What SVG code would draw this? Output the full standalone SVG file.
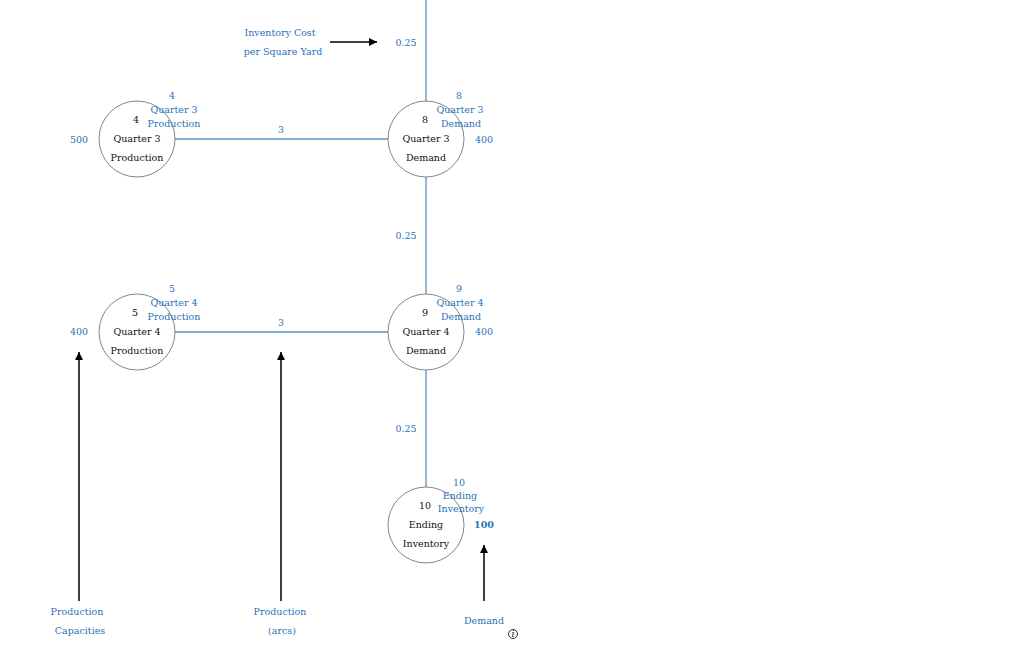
<svg xmlns="http://www.w3.org/2000/svg" width="1024" height="651" viewBox="0 0 1024 651">
<defs>
<marker id="ah" viewBox="0 0 10 10" refX="10" refY="5" markerWidth="8" markerHeight="8" markerUnits="userSpaceOnUse" orient="auto"><path d="M0,0 L10,5 L0,10 z" fill="#000"/></marker>
</defs>
<style>
text{font-family:"DejaVu Serif","Liberation Serif",serif;font-size:9.5px;text-anchor:middle}
.b{fill:#2a72b8}
.k{fill:#111}
circle.n{fill:#fff;stroke:#666;stroke-width:0.8}
.e{stroke:#5b93cc;stroke-width:1.3;fill:none}
.a{stroke:#000;stroke-width:1.5;marker-end:url(#ah)}
</style>
<rect width="1024" height="651" fill="#fff"/>
<g id="connectors">
<line class="e" x1="426" y1="0" x2="426" y2="101"/>
<line class="e" x1="175" y1="139" x2="388" y2="139"/>
<line class="e" x1="426" y1="177" x2="426" y2="294"/>
<line class="e" x1="175" y1="332" x2="388" y2="332"/>
<line class="e" x1="426" y1="370" x2="426" y2="487"/>
<text class="b" x="406" y="46">0.25</text>
<text class="b" x="281" y="133">3</text>
<text class="b" x="406" y="239">0.25</text>
<text class="b" x="281" y="326">3</text>
<text class="b" x="406" y="432">0.25</text>
</g>
<g id="n4">
<circle class="n" cx="137" cy="139" r="38"/>
<text class="k" x="136" y="123">4</text>
<text class="k" x="137" y="142">Quarter 3</text>
<text class="k" x="137" y="161">Production</text>
<text class="b" x="172" y="99">4</text>
<text class="b" x="174" y="113">Quarter 3</text>
<text class="b" x="174" y="127">Production</text>
<text class="b" x="79" y="143">500</text>
</g>
<g id="n8">
<circle class="n" cx="426" cy="139" r="38"/>
<text class="k" x="425" y="123">8</text>
<text class="k" x="426" y="142">Quarter 3</text>
<text class="k" x="426" y="161">Demand</text>
<text class="b" x="459" y="99">8</text>
<text class="b" x="460" y="113">Quarter 3</text>
<text class="b" x="461" y="127">Demand</text>
<text class="b" x="484" y="143">400</text>
</g>
<g id="n5">
<circle class="n" cx="137" cy="332" r="38"/>
<text class="k" x="135" y="316">5</text>
<text class="k" x="137" y="335">Quarter 4</text>
<text class="k" x="137" y="354">Production</text>
<text class="b" x="172" y="292">5</text>
<text class="b" x="174" y="306">Quarter 4</text>
<text class="b" x="174" y="320">Production</text>
<text class="b" x="79" y="335">400</text>
</g>
<g id="n9">
<circle class="n" cx="426" cy="332" r="38"/>
<text class="k" x="425" y="316">9</text>
<text class="k" x="426" y="335">Quarter 4</text>
<text class="k" x="426" y="354">Demand</text>
<text class="b" x="459" y="292">9</text>
<text class="b" x="460" y="306">Quarter 4</text>
<text class="b" x="461" y="320">Demand</text>
<text class="b" x="484" y="335">400</text>
</g>
<g id="n10">
<circle class="n" cx="426" cy="525" r="38"/>
<text class="k" x="425" y="509">10</text>
<text class="k" x="426" y="528">Ending</text>
<text class="k" x="426" y="547">Inventory</text>
<text class="b" x="459" y="486">10</text>
<text class="b" x="460" y="499">Ending</text>
<text class="b" x="461" y="512">Inventory</text>
<text class="b" x="484" y="528" font-weight="bold">100</text>
</g>
<g id="annotations">
<text class="b" x="280" y="36">Inventory Cost</text>
<text class="b" x="283" y="55">per Square Yard</text>
<line class="a" x1="330" y1="42" x2="377" y2="42"/>
<line class="a" x1="79" y1="601" x2="79" y2="352"/>
<text class="b" x="77" y="615">Production</text>
<text class="b" x="80" y="634">Capacities</text>
<line class="a" x1="281" y1="601" x2="281" y2="352"/>
<text class="b" x="280" y="615">Production</text>
<text class="b" x="282" y="634">(arcs)</text>
<line class="a" x1="484" y1="601" x2="484" y2="545"/>
<text class="b" x="484" y="624">Demand</text>
<circle cx="513" cy="634" r="4.5" fill="none" stroke="#000" stroke-width="0.8"/>
<text class="k" x="513" y="637" font-size="7" font-style="italic">i</text>
</g>
</svg>
